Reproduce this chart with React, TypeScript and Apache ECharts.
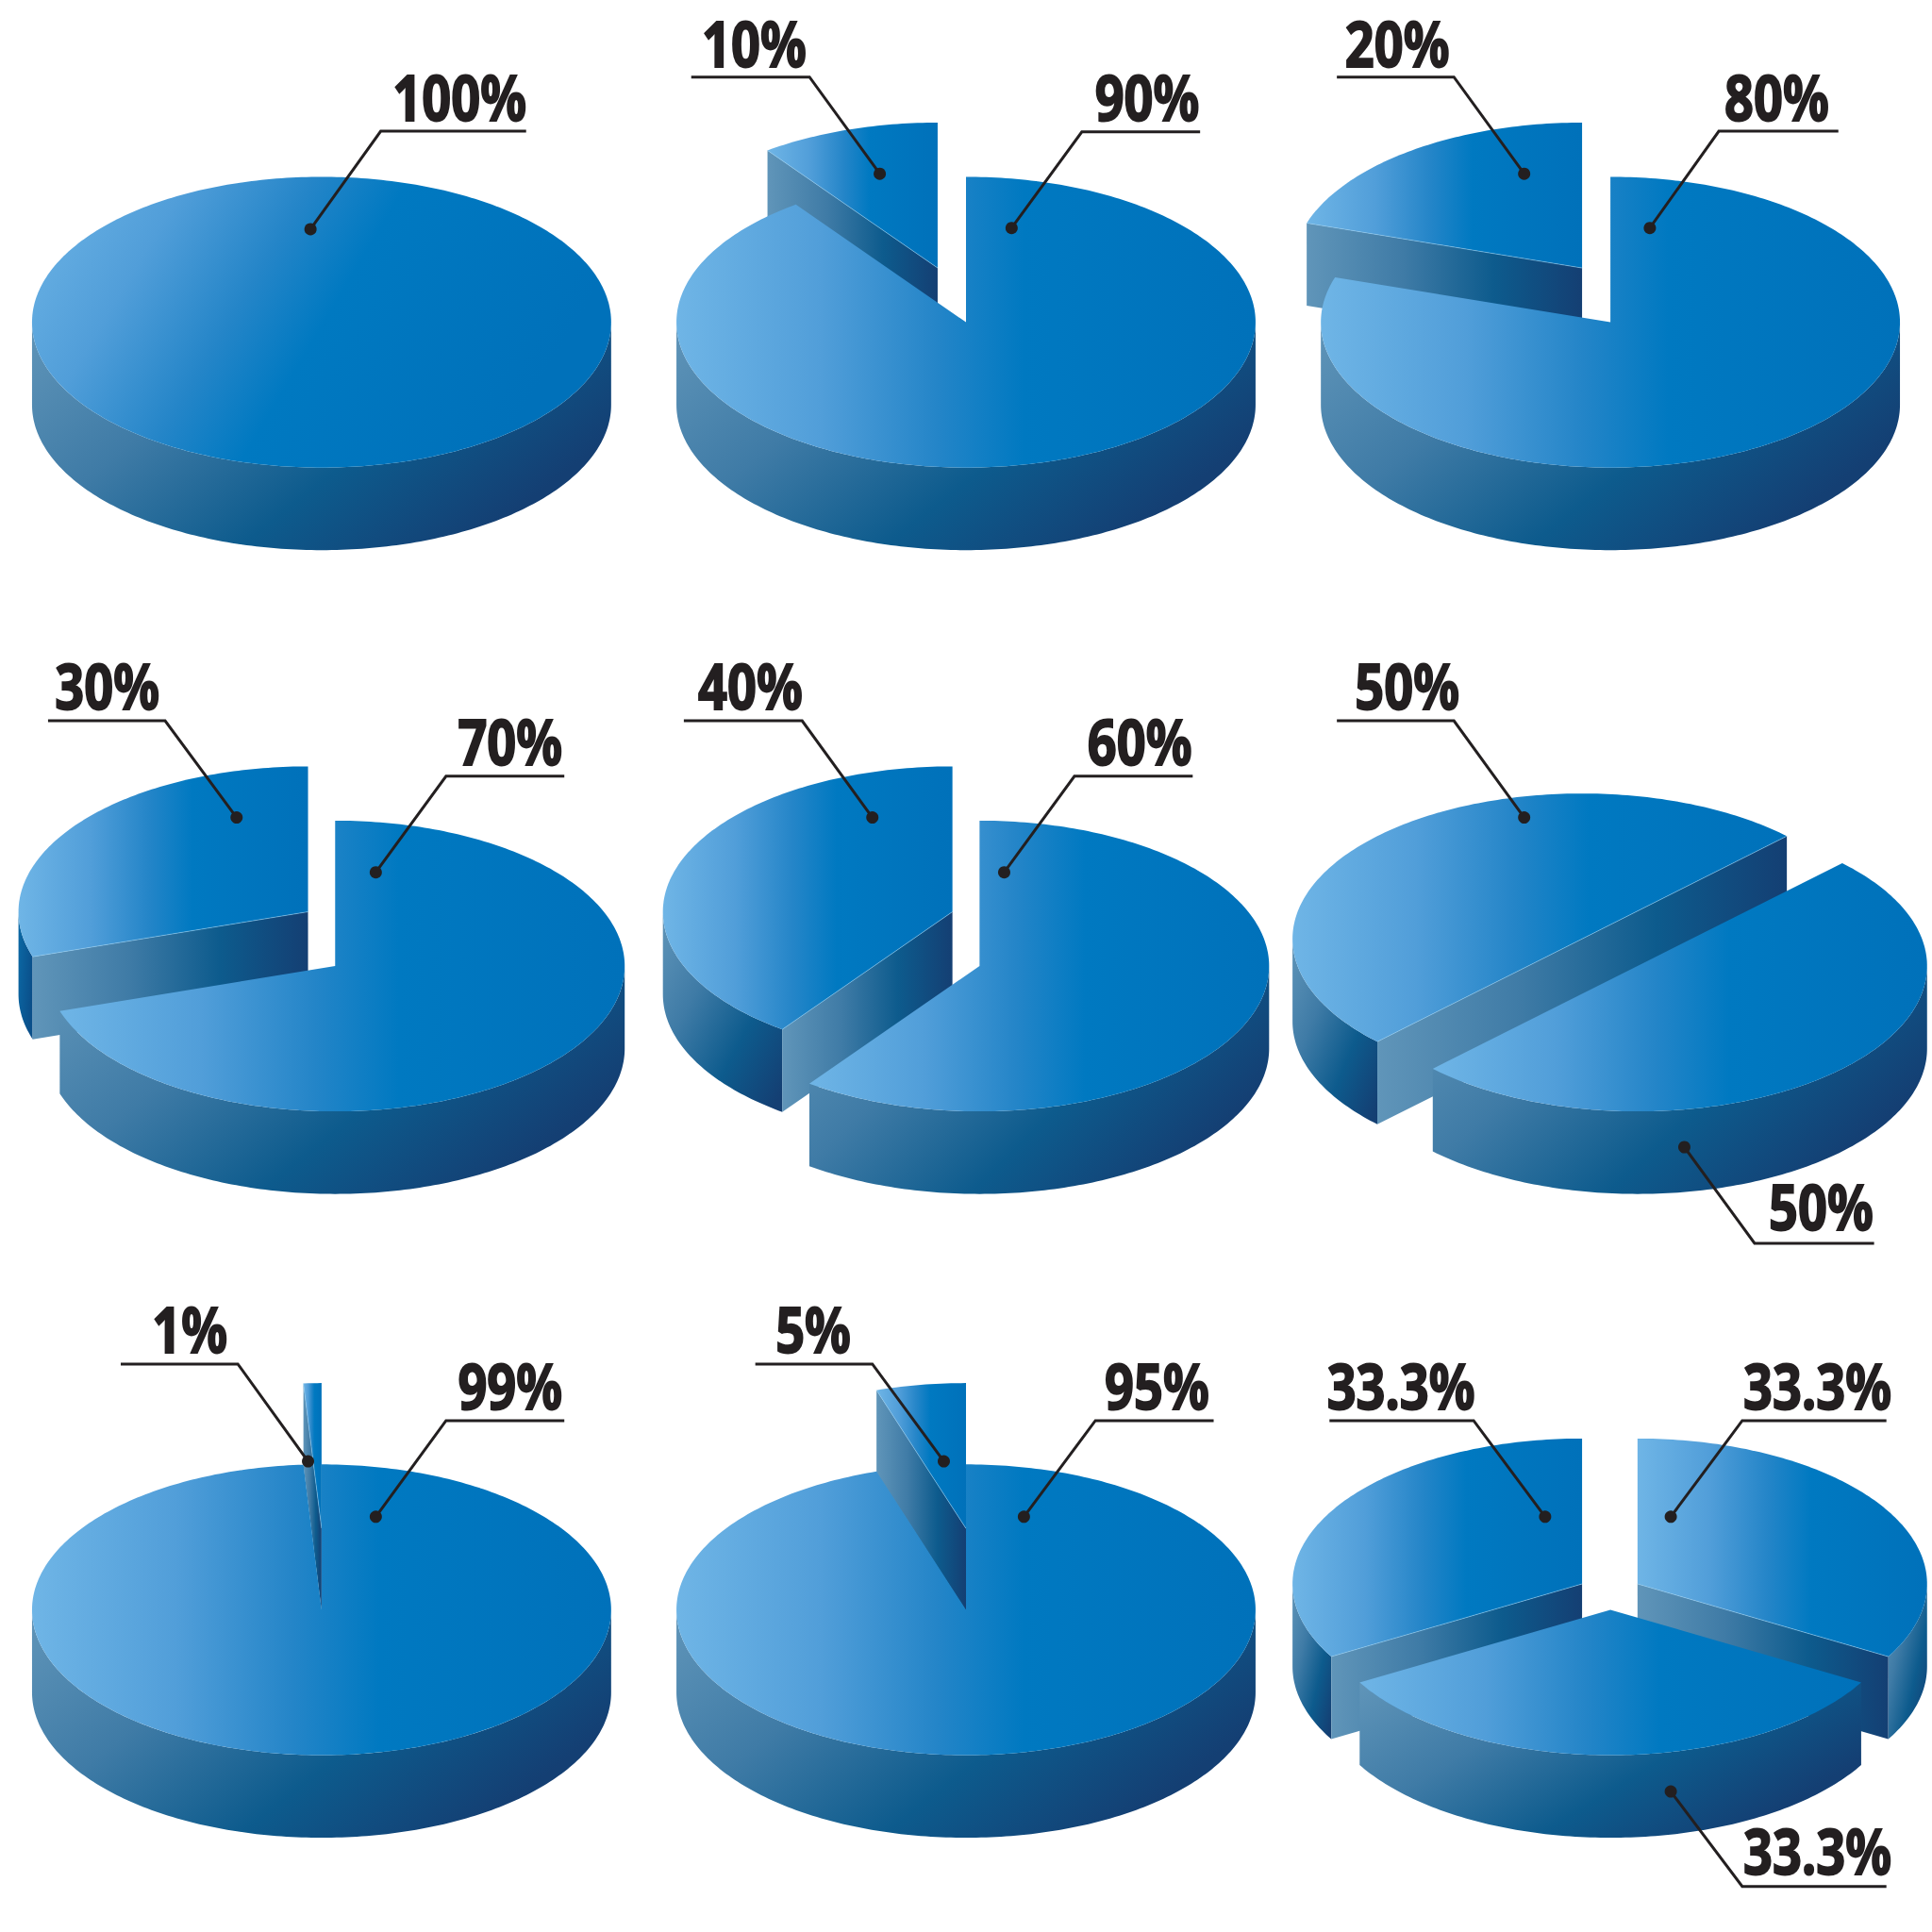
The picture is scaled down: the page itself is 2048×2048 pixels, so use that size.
import React, { useEffect, useRef } from "react";
import * as echarts from "echarts";

// ---- data (percent values of every pie, in clockwise order) ----
const pie100 = [100];
const pie90 = [90, 10];
const pie80 = [80, 20];
const pie70 = [70, 30];
const pie60 = [60, 40];
const pie50 = [50, 50];
const pie99 = [99, 1];
const pie95 = [95, 5];
const pie33 = [33.3, 33.3, 33.3];
const pies = [pie100, pie90, pie80, pie70, pie60, pie50, pie99, pie95, pie33];

// ---- layout, in units of a 1568-wide picture ----
const RX = 235, RY = 118, DEPTH = 67;
const centers = [[261, 261.5], [784, 261.5], [1307, 261.5], [272, 784], [795, 784], [1329, 784], [261, 1306.5], [784, 1306.5], [1307, 1306.5]];
const rotation = [0, 0, 0, 0, 0, 45, 0, 0, 0];
const offsets = [
  [[0, 0]],
  [[0, 0], [-23, -44]],
  [[0, 0], [-23, -44]],
  [[0, 0], [-22, -44]],
  [[0, 0], [-22, -44]],
  [[0, 0], [-45, -22]],
  [[0, 0], [0, -66]],
  [[0, 0], [0, -66]],
  [[22, -21], [0, 0], [-23, -21]],
];
// painting order: [pie, slice]
const drawOrder = [[0, 0], [1, 1], [1, 0], [2, 1], [2, 0], [3, 1], [3, 0], [4, 1], [4, 0], [5, 1], [5, 0], [6, 1], [6, 0], [7, 1], [7, 0], [8, 0], [8, 2], [8, 1]];

const labelTexts = ["100%", "10%", "90%", "20%", "80%", "30%", "70%", "40%", "60%", "50%", "50%", "1%", "99%", "5%", "95%", "33.3%", "33.3%", "33.3%"];
// text centre x, digit-middle y
const labelAnchors = [[373, 78], [612, 35], [931, 78], [1134, 35], [1442, 78], [87, 556], [414, 601], [609, 556], [925, 601], [1142, 556], [1478, 979], [154, 1078], [414, 1124], [660, 1078], [939, 1124], [1137, 1124], [1475, 1124], [1475, 1502]];
// leader line: underline start, elbow, dot
const leaders = [
  [[427, 106.5], [309, 106.5], [252, 186]],
  [[561, 62.5], [657, 62.5], [714, 141]],
  [[974, 107], [878, 107], [821, 185]],
  [[1085, 62.5], [1180, 62.5], [1237, 141]],
  [[1492, 106.5], [1395, 106.5], [1339, 185]],
  [[39, 585], [134, 585], [192, 663.5]],
  [[458, 630], [362, 630], [305, 708]],
  [[555, 585], [651, 585], [708, 663.5]],
  [[968, 630], [872, 630], [815, 708]],
  [[1085, 585], [1180, 585], [1237, 663.5]],
  [[1521, 1009], [1424, 1009], [1367, 931]],
  [[98, 1107], [193, 1107], [250, 1186]],
  [[458, 1153], [362, 1153], [305, 1231]],
  [[613, 1107], [708, 1107], [766, 1186]],
  [[985, 1153], [889, 1153], [831, 1231]],
  [[1079, 1153], [1196, 1153], [1254, 1231]],
  [[1531, 1153], [1414, 1153], [1356, 1231]],
  [[1531, 1531], [1414, 1531], [1356, 1454]],
];

const topStops = [
  { offset: 0, color: "#6fb5e6" },
  { offset: 0.25, color: "#519ed9" },
  { offset: 0.45, color: "#2485c8" },
  { offset: 0.6, color: "#0079c1" },
  { offset: 1, color: "#0071ba" },
];
const wallStops = [
  { offset: 0, color: "#6095b9" },
  { offset: 0.35, color: "#3f7ba6" },
  { offset: 0.68, color: "#0d5b8d" },
  { offset: 1, color: "#143f73" },
];
const narrowWallStops = [
  { offset: 0, color: "#0c6aa6" },
  { offset: 1, color: "#0a4f8a" },
];
const linear = (x2: number, y2: number, stops: any[]) => ({ type: "linear", x: 0, y: 0, x2, y2, colorStops: stops });

function range(pie: number, slice: number) {
  const vals = pies[pie];
  const total = vals.reduce((a, b) => a + b, 0);
  let start = rotation[pie];
  for (let i = 0; i < slice; i++) start += (vals[i] / total) * 360;
  return [start, start + (vals[slice] / total) * 360];
}

function renderSlice(params: any, api: any) {
  const [pie, slice] = drawOrder[params.dataIndex];
  const [a0, a1] = range(pie, slice);
  const [ox, oy] = offsets[pie][slice];
  const cx = centers[pie][0] + ox, cy = centers[pie][1] + oy;
  const pt = (deg: number, drop = 0) => {
    const t = (deg * Math.PI) / 180;
    return api.coord([cx + RX * Math.sin(t), cy - RY * Math.cos(t) + drop]);
  };
  const apex = (drop = 0) => api.coord([cx, cy + drop]);
  const arc = (from: number, to: number, drop = 0) => {
    const out: number[][] = [];
    const n = Math.max(2, Math.ceil(Math.abs(to - from)));
    for (let i = 0; i <= n; i++) out.push(pt(from + ((to - from) * i) / n, drop));
    return out;
  };
  const children: any[] = [];
  const full = a1 - a0 >= 359.9;

  // outer wall: parts of the rim that lie on the front half of the ellipse
  [[90, 270], [450, 630]].forEach(([lo, hi]) => {
    const from = Math.max(a0, lo), to = Math.min(a1, hi);
    if (to > from) {
      const span = to - from;
      const fill = span < 25 ? linear(1, 0.5, narrowWallStops) : span < 100 ? linear(1, 0.9, wallStops) : linear(1, 0.5, wallStops);
      children.push({
        type: "polygon",
        shape: { points: [...arc(from, to, 0), ...arc(to, from, DEPTH)] },
        style: { fill },
      });
    }
  });

  // faces of the cut
  const startSeen = Math.sin((a0 * Math.PI) / 180) < -1e-6;
  const endSeen = Math.sin((a1 * Math.PI) / 180) > 1e-6;
  if (!full && (startSeen || endSeen)) {
    const pts =
      startSeen && endSeen
        ? [pt(a0), apex(), pt(a1), pt(a1, DEPTH), apex(DEPTH), pt(a0, DEPTH)]
        : startSeen
        ? [pt(a0), apex(), apex(DEPTH), pt(a0, DEPTH)]
        : [apex(), pt(a1), pt(a1, DEPTH), apex(DEPTH)];
    children.push({ type: "polygon", shape: { points: pts }, style: { fill: linear(1, 0, wallStops) } });
  }

  // top face
  children.push({
    type: "polygon",
    shape: { points: full ? arc(a0, a1) : [apex(), ...arc(a0, a1)] },
    style: { fill: linear(1, full ? 0.3 : 0, topStops) },
  });

  // thin light rims
  const rim = { stroke: "rgba(150,205,240,0.55)", lineWidth: 1, fill: "none" };
  if (startSeen && !full) children.push({ type: "polyline", shape: { points: [pt(a0), apex()] }, style: rim });
  if (endSeen && !full) children.push({ type: "polyline", shape: { points: [apex(), pt(a1)] }, style: rim });
  return { type: "group", children };
}

function renderLabel(params: any, api: any) {
  const i = params.dataIndex;
  const [x, y] = api.coord(labelAnchors[i]);
  const line = leaders[i].map((p) => api.coord(p));
  return {
    type: "group",
    children: [
      { type: "polyline", shape: { points: line }, style: { stroke: "#231f20", lineWidth: 3, fill: "none", lineJoin: "miter" } },
      { type: "circle", shape: { cx: line[2][0], cy: line[2][1], r: 6.5 }, style: { fill: "#231f20" } },
      {
        type: "text",
        x,
        y,
        scaleX: 0.82,
        style: {
          text: labelTexts[i],
          fill: "#231f20",
          stroke: "#231f20",
          lineWidth: 2,
          font: 'bold 66px "Noto Sans", sans-serif',
          align: "center",
          verticalAlign: "middle",
        },
      },
    ],
  };
}

export default function App() {
  const ref = useRef<HTMLDivElement>(null);
  useEffect(() => {
    if (!ref.current) return;
    const chart = echarts.init(ref.current, null, { renderer: "svg" });
    chart.setOption({
      animation: false,
      backgroundColor: "#ffffff",
      grid: { left: 0, right: 0, top: 0, bottom: 0 },
      xAxis: { type: "value", min: 0, max: 1568, show: false },
      yAxis: { type: "value", min: 0, max: 1568, inverse: true, show: false },
      series: [
        {
          type: "custom",
          coordinateSystem: "cartesian2d",
          renderItem: renderSlice,
          clip: false,
          silent: true,
          encode: { x: 0, y: 1 },
          data: drawOrder.map(([p, s]) => [centers[p][0], centers[p][1], pies[p][s]]),
        },
        {
          type: "custom",
          coordinateSystem: "cartesian2d",
          renderItem: renderLabel,
          clip: false,
          silent: true,
          encode: { x: 0, y: 1 },
          data: labelAnchors,
        },
      ],
    });
    return () => chart.dispose();
  }, []);
  return <div ref={ref} style={{ position: "absolute", left: 0, top: 0, width: 2048, height: 2048 }} />;
}
